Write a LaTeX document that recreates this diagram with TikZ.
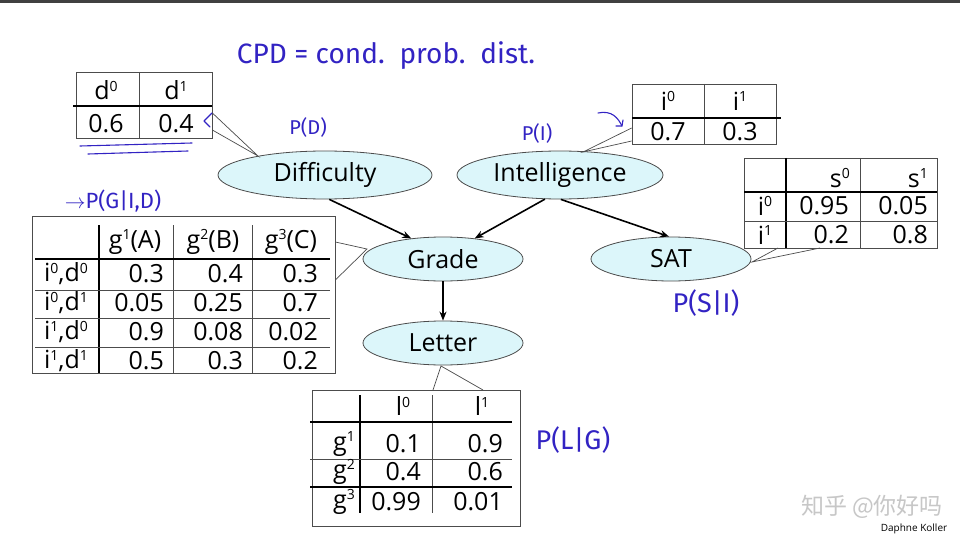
\documentclass[tikz,border=0pt]{standalone}
\usepackage{fontspec}
\setmainfont{Open Sans}
\newfontfamily\cjkfont{Noto Sans CJK SC}
\newfontfamily\handfont{Fira Sans}
\usetikzlibrary{shapes.geometric,arrows.meta}
\newcommand\fsz[1]{\fontsize{#1}{#1}\selectfont}
\newcommand\sups[1]{\raisebox{0.62ex}{\fontsize{14}{14}\selectfont #1}}
\definecolor{nodefill}{RGB}{220,246,250}
\definecolor{handblue}{RGB}{50,35,195}
\tikzset{
  var/.style={ellipse, draw=black!70, fill=nodefill, line width=0.8pt, inner sep=0pt, font=\fsz{25}},
  edge/.style={-{Stealth[length=9pt,width=7pt]}, line width=1.6pt},
  tbox/.style={draw=black!70, line width=0.7pt, fill=white, inner sep=0pt},
  thin/.style={line width=0.7pt, draw=black!70},
  heavy/.style={line width=2.6pt},
  cell/.style={inner sep=0pt, font=\fsz{25}},
  note/.style={text=handblue, font=\handfont\fsz{22}},
  pen/.style={draw=handblue, line width=1.1pt, line cap=round, line join=round}
}
\begin{document}
\begin{tikzpicture}[x=1pt,y=-1pt]
\useasboundingbox (0,0) rectangle (960,540);
\fill[white] (0,0) rectangle (960,540);
\fill[black!75] (0,0) rectangle (960,3);

% ---------- variables ----------
\node[var, minimum width=214pt, minimum height=48pt] (D) at (325,175) {Difficulty};
\node[var, minimum width=206pt, minimum height=48pt] (I) at (560,175) {Intelligence};
\node[var, minimum width=160pt, minimum height=44pt] (G) at (443,259) {Grade};
\node[var, minimum width=160pt, minimum height=44pt] (S) at (671,259) {SAT};
\node[var, minimum width=160pt, minimum height=44pt] (L) at (443,343) {Letter};

\draw[edge] (D.-80) -- (G.147);
\draw[edge] (I.-122) -- (G.33);
\draw[edge] (I.-88) -- (S.95);
\draw[edge] (G.south) -- (L.north);

% ---------- P(D) table ----------
\node[tbox, minimum width=136pt, minimum height=66pt] (TD) at (144,105) {};
\draw[thin] (139,72) -- (139,138);
\draw[heavy] (73,106) -- (212,106);
\node[cell] (d0) at (106,90) {d\sups{0}};
\node[cell] (d1) at (176,90) {d\sups{1}};
\node[cell] (dv0) at (106,124) {0.6};
\node[cell] (dv1) at (176,124) {0.4};
\coordinate (tipD) at (258,156);
\draw[thin] (TD.east |- 0,113) -- (tipD) -- (TD.east |- 0,130);

% ---------- P(I) table ----------
\node[tbox, minimum width=144pt, minimum height=60pt] (TI) at (704,114) {};
\draw[thin] (704,84) -- (704,144);
\draw[heavy] (632,118) -- (781,118);
\node[cell] (i0) at (668,101) {i\sups{0}};
\node[cell] (i1) at (740,101) {i\sups{1}};
\node[cell] (iv0) at (668,132) {0.7};
\node[cell] (iv1) at (740,132) {0.3};
\coordinate (tipI) at (583,152);
\draw[thin] (TI.west |- 0,128) -- (tipI) -- (TI.west |- 0,141);

% ---------- P(S|I) table ----------
\node[tbox, minimum width=193pt, minimum height=90pt] (TS) at (840.5,203) {};
\draw[heavy] (786,158) -- (786,248);
\draw[thin] (860,158) -- (860,248);
\draw[heavy] (744,192) -- (937,192);
\draw[thin] (744,221) -- (937,221);
\node[cell, anchor=east] (s0) at (850,178) {s\sups{0}};
\node[cell, anchor=east] (s1) at (928,178) {s\sups{1}};
\node[cell] (si0) at (765,206) {i\sups{0}};
\node[cell] (si1) at (765,235) {i\sups{1}};
\node[cell, anchor=east] (sv00) at (849,206) {0.95};
\node[cell, anchor=east] (sv01) at (928,206) {0.05};
\node[cell, anchor=east] (sv10) at (849,235) {0.2};
\node[cell, anchor=east] (sv11) at (928,235) {0.8};
\coordinate (tipS) at (752,262);
\draw[thin] (778,248) -- (tipS) -- (820,248);

% ---------- P(G|I,D) table ----------
\node[tbox, minimum width=303pt, minimum height=157pt] (TG) at (183.5,294.5) {};
\draw[heavy] (99,225) -- (99,373);
\draw[thin] (173,225) -- (173,373);
\draw[thin] (252,225) -- (252,373);
\draw[heavy] (35,259) -- (330,259);
\draw[thin] (35,290) -- (330,290);
\draw[thin] (35,318) -- (330,318);
\draw[thin] (35,347) -- (330,347);
\node[cell] (gh1) at (135,242) {g\sups{1}(A)};
\node[cell] (gh2) at (213,242) {g\sups{2}(B)};
\node[cell] (gh3) at (291,242) {g\sups{3}(C)};
\node[cell] (gr1) at (66,274) {i\sups{0},d\sups{0}};
\node[cell] (gr2) at (66,303) {i\sups{0},d\sups{1}};
\node[cell] (gr3) at (66,332) {i\sups{1},d\sups{0}};
\node[cell] (gr4) at (66,361) {i\sups{1},d\sups{1}};
\node[cell, anchor=east] at (164,274) {0.3};
\node[cell, anchor=east] at (243,274) {0.4};
\node[cell, anchor=east] at (318,274) {0.3};
\node[cell, anchor=east] at (164,303) {0.05};
\node[cell, anchor=east] at (243,303) {0.25};
\node[cell, anchor=east] at (318,303) {0.7};
\node[cell, anchor=east] at (164,332) {0.9};
\node[cell, anchor=east] at (243,332) {0.08};
\node[cell, anchor=east] at (318,332) {0.02};
\node[cell, anchor=east] at (164,361) {0.5};
\node[cell, anchor=east] at (243,361) {0.3};
\node[cell, anchor=east] at (318,361) {0.2};
\coordinate (tipG) at (367,249);
\draw[thin] (TG.east |- 0,242) -- (tipG) -- (TG.east |- 0,280);

% ---------- P(L|G) table ----------
\node[tbox, minimum width=208pt, minimum height=136pt] (TL) at (416,458) {};
\draw[heavy] (360,395) -- (360,513);
\draw[thin] (432,395) -- (432,513);
\draw[heavy] (310,422) -- (512,422);
\draw[thin] (310,459) -- (512,459);
\draw[heavy] (310,487) -- (512,487);
\node[cell] (l0) at (403,406) {l\sups{0}};
\node[cell] (l1) at (482,406) {l\sups{1}};
\node[cell, anchor=east] (lg1) at (355,444) {g\sups{1}};
\node[cell, anchor=east] (lg2) at (355,472) {g\sups{2}};
\node[cell, anchor=east] (lg3) at (355,502) {g\sups{3}};
\node[cell, anchor=east] at (421,444) {0.1};
\node[cell, anchor=east] at (503,444) {0.9};
\node[cell, anchor=east] at (421,472) {0.4};
\node[cell, anchor=east] at (503,472) {0.6};
\node[cell, anchor=east] at (421,502) {0.99};
\node[cell, anchor=east] at (503,502) {0.01};
\coordinate (tipL) at (441,366);
\draw[thin] (433,390) -- (tipL) -- (483,390);

% ---------- handwritten notes ----------
\node[note, font=\handfont\fsz{28}] (cpd) at (386,56) {CPD = cond.\ \ prob.\ \ dist.};
\node[note, font=\handfont\fsz{20}] (pd) at (308,128) {P(D)};
\node[note, font=\handfont\fsz{20}] (pi) at (537,134) {P(I)};
\node[note] (pgid) at (113,201) {$\rightarrow$P(G|I,D)};
\node[note, font=\handfont\fsz{27}] (psi) at (706,303) {P(S|I)};
\node[note, font=\handfont\fsz{27}] (plg) at (573,440) {P(L|G)};
\draw[pen] (80,146) -- (192,143);
\draw[pen] (88,154) -- (188,151);
\draw[pen] (212,113) -- (204,121) -- (210,127);
\draw[pen] (598,113) .. controls (612,110) and (618,118) .. (622,126);
\draw[pen] (616,126) -- (622,126) -- (623,120);

% ---------- watermark and credit ----------
\node[text=black!22, font=\cjkfont\fsz{23}] (wm) at (872,507) {知乎 @你好吗};
\node[font=\fsz{10}] (credit) at (914,529) {Daphne Koller};
\end{tikzpicture}
\end{document}
